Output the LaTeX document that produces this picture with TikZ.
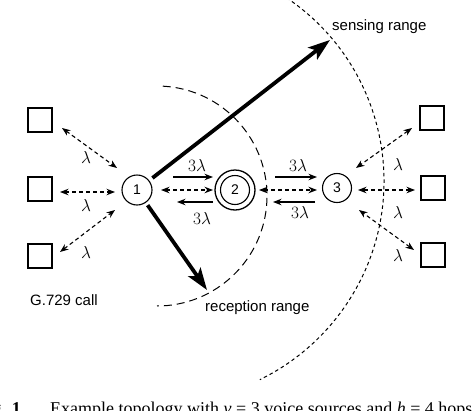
\documentclass[tikz,border=0pt]{standalone}
\usepackage{fontspec}
\setmainfont{Liberation Serif}
\setsansfont{Liberation Sans}
\usetikzlibrary{arrows.meta}
\tikzset{
  box/.style={draw, line width=1.1pt, minimum size=24pt, inner sep=0pt},
  stn/.style={draw, circle, line width=1.1pt, minimum size=29pt, inner sep=0pt, font=\fontsize{14}{14}\selectfont\sffamily},
  darr/.style={line width=1.1pt, dash pattern=on 4pt off 3pt, {Stealth[length=8.5pt,width=6.5pt]}-{Stealth[length=8.5pt,width=6.5pt]}},
  sarr/.style={line width=1.1pt, -{Stealth[length=8.5pt,width=6.5pt]}},
  bigarr/.style={line width=3.8pt, -{Stealth[length=22pt,width=15pt,inset=5pt]}},
  lam/.style={font=\fontsize{16}{16}\selectfont, inner sep=0pt},
  lbl/.style={font=\fontsize{15}{15}\selectfont\sffamily, inner sep=0pt},
  recarc/.style={line width=1pt, dash pattern=on 8pt off 5pt},
  senarc/.style={line width=1pt, dash pattern=on 3.5pt off 3pt},
  capt/.style={inner sep=0pt, font=\fontsize{18}{18}\selectfont}
}
\begin{document}
\begin{tikzpicture}[x=1pt,y=-1pt]
\useasboundingbox (0,0) rectangle (474,410);
\clip (0,0) rectangle (474,410);
% squares
\node[box] (sL1) at (40,120) {};
\node[box] (sL2) at (40,189) {};
\node[box] (sL3) at (40,256) {};
\node[box] (sR1) at (432,118) {};
\node[box] (sR2) at (433,188) {};
\node[box] (sR3) at (433,255) {};
% stations
\node[stn, minimum size=30pt] (n1) at (137,190) {1};
\node[stn, minimum size=40pt, line width=1.3pt] (n2) at (235,190) {};
\node[stn, minimum size=29pt] (n2i) at (235,190) {2};
\node[stn] (n3) at (337,188) {3};
% range arcs
\draw[recarc] (157,196) ++(87:110pt) arc[start angle=87, end angle=-90, radius=110pt];
\draw[senarc] (163,181) ++(56:221pt) arc[start angle=56, end angle=-64, radius=221pt];
% connector end points
\coordinate (a1) at (62,128);  \coordinate (b1) at (117,168);
\coordinate (a2) at (60,192);  \coordinate (b2) at (115,192);
\coordinate (a3) at (60,252);  \coordinate (b3) at (115,210);
\coordinate (c1) at (412,128); \coordinate (d1) at (356,168);
\coordinate (c2) at (415,190); \coordinate (d2) at (358,190);
\coordinate (c3) at (414,250); \coordinate (d3) at (359,210);
\coordinate (stip) at (330,40);
\coordinate (rtip) at (207,290);
% left links
\draw[darr] (a1) -- (b1);
\draw[darr] (a2) -- (b2);
\draw[darr] (a3) -- (b3);
% right links
\draw[darr] (c1) -- (d1);
\draw[darr] (c2) -- (d2);
\draw[darr] (c3) -- (d3);
% 1-2 links
\draw[sarr] ([shift={(36,-13)}]n1.center) -- ([shift={(-22,-13)}]n2.center);
\draw[darr] ([xshift=24pt]n1.center) -- ([xshift=-22pt]n2.center);
\draw[sarr] ([shift={(-22,12)}]n2.center) -- ([shift={(40,12)}]n1.center);
% 2-3 links
\draw[sarr] ([shift={(40,-13)}]n2.center) -- ([shift={(-20,-11)}]n3.center);
\draw[darr] ([xshift=24pt]n2.center) -- ([shift={(-20,2)}]n3.center);
\draw[sarr] ([shift={(-22,14)}]n3.center) -- ([shift={(38,12)}]n2.center);
% range arrows
\draw[bigarr, shorten <=4pt] (n1) -- (stip);
\draw[bigarr, shorten <=3pt] (n1) -- (rtip);
% lambdas
\node[lam] (lL1) at (86,157) {$\lambda$};
\node[lam] (lL2) at (86,205) {$\lambda$};
\node[lam] (lL3) at (86,252) {$\lambda$};
\node[lam] (lR1) at (398,164) {$\lambda$};
\node[lam] (lR2) at (398,212) {$\lambda$};
\node[lam] (lR3) at (398,255) {$\lambda$};
\node[lam] (t12a) at (197,165) {$3\lambda$};
\node[lam] (t12b) at (202,218) {$3\lambda$};
\node[lam] (t23a) at (298,165) {$3\lambda$};
\node[lam] (t23b) at (300,212) {$3\lambda$};
% labels
\node[lbl, anchor=base west] (sens) at (332,30) {sensing range};
\node[lbl, anchor=base west] (rec) at (205,311) {reception range};
\node[lbl, anchor=base west] (g729) at (30,305) {G.729 call};
% caption (cut by the page edge, as in the reference)
\node[capt, anchor=base east] (fig) at (21,414) {\textbf{Fig. 1}};
\node[capt, anchor=base west] (cap) at (50,414) {Example topology with \textit{v} = 3 voice sources and \textit{h} = 4 hops};
\end{tikzpicture}
\end{document}
